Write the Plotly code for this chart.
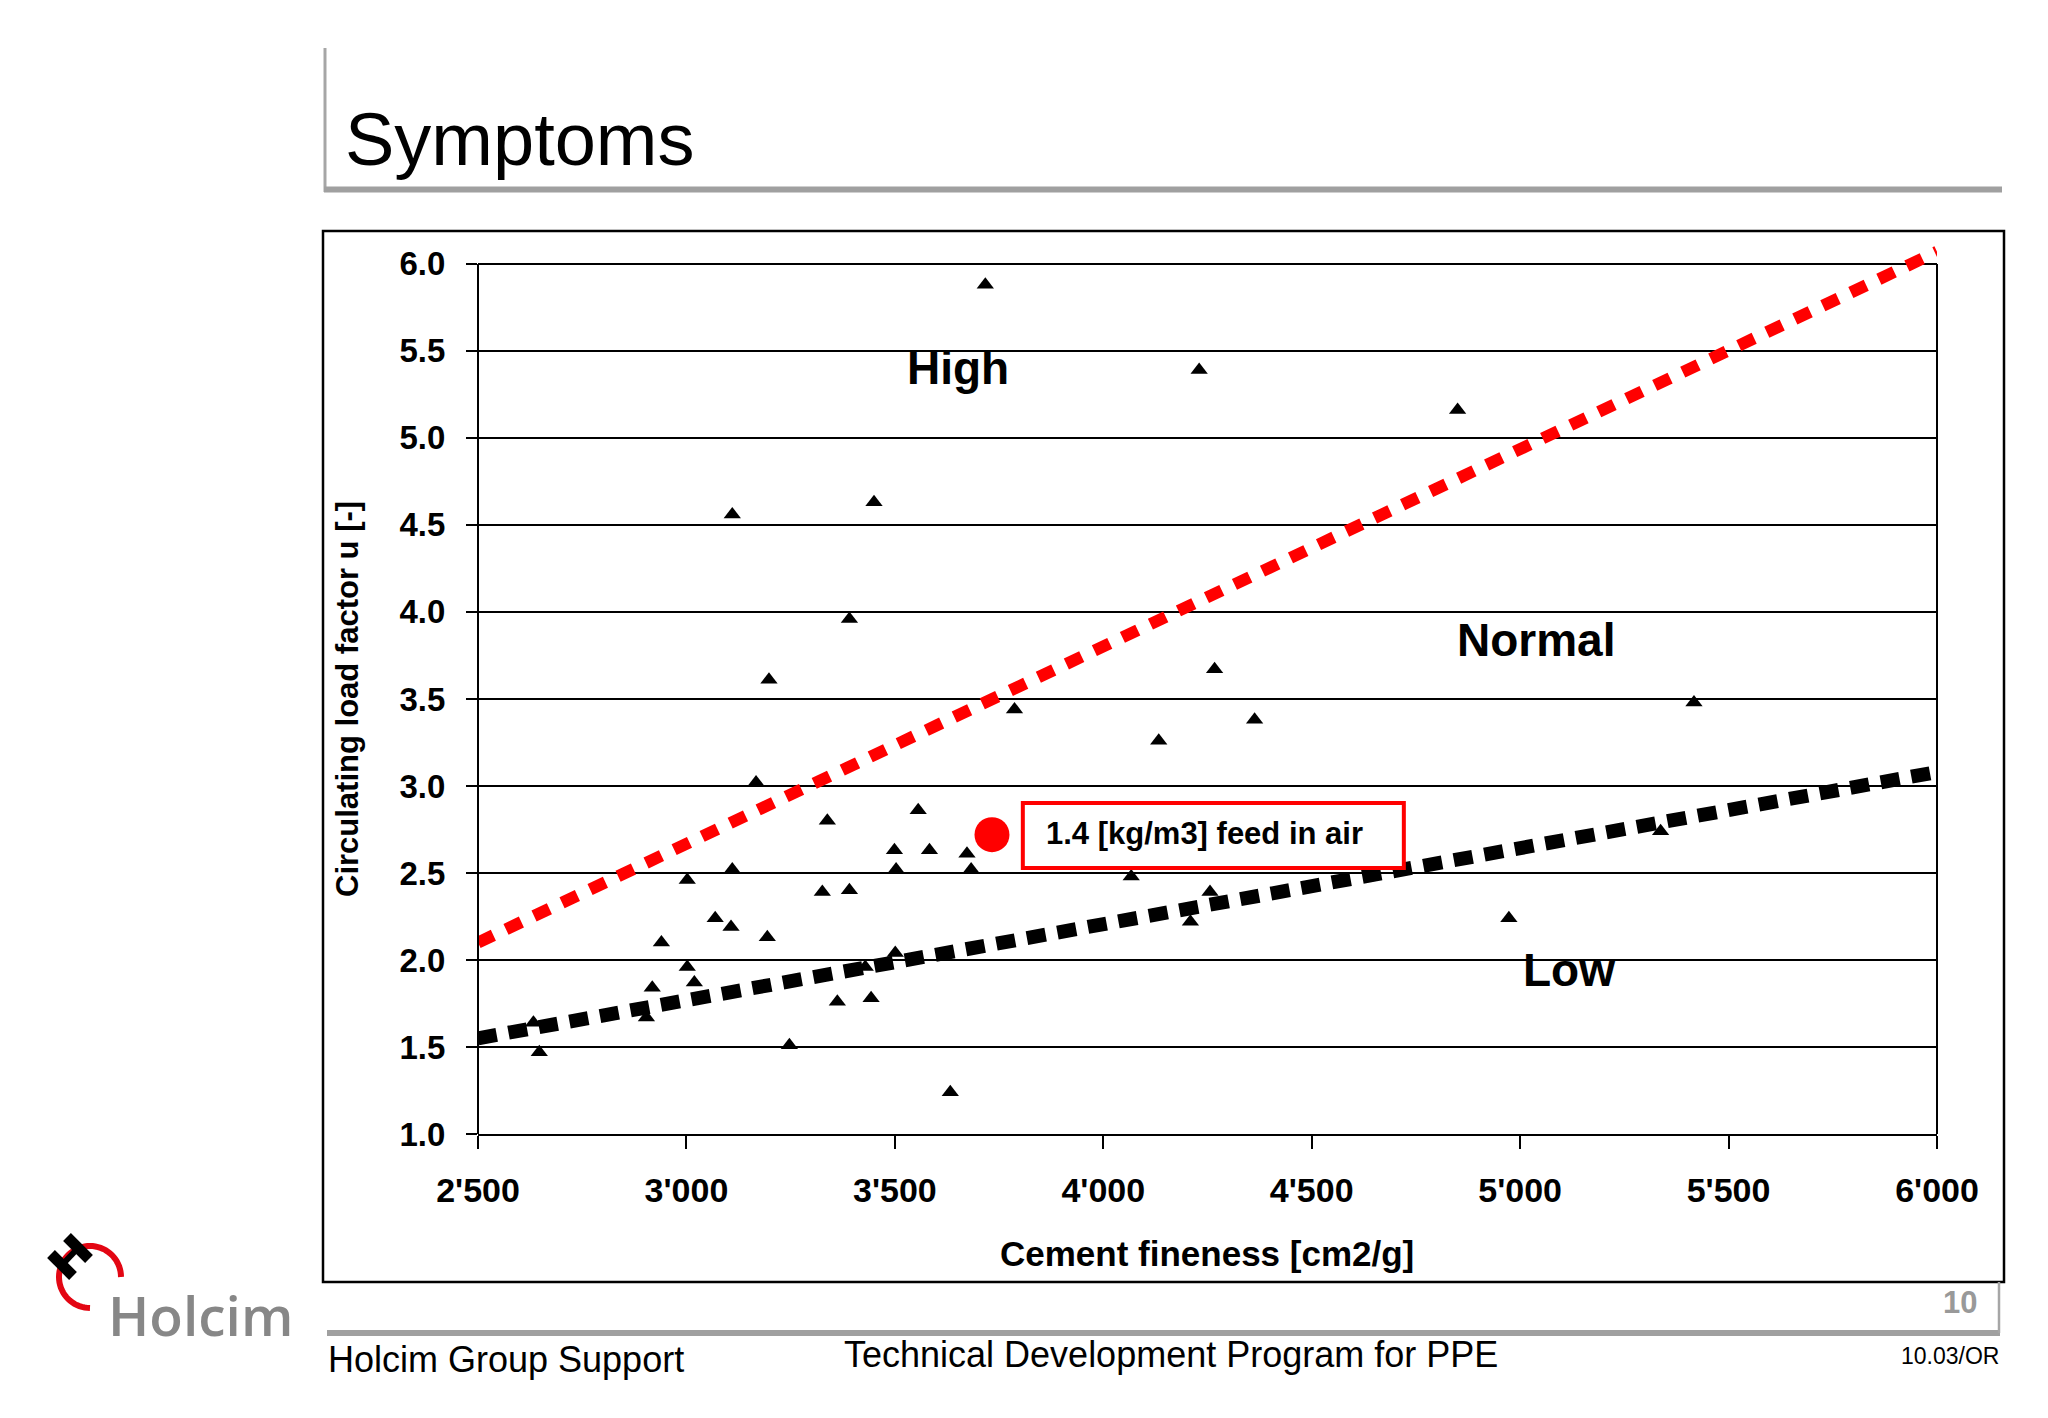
import math
import plotly.graph_objects as go

# ---------------- data ----------------
fineness = [3717, 4230, 4850, 3110, 3450, 3391, 3198, 4267, 4363, 3787,
            4133, 5417, 3167, 3338, 3556, 3499, 3583, 3673, 3503, 3683,
            3110, 3002, 3326, 3391, 3069, 3107, 3194, 2940, 3002, 2918,
            3019, 2904, 2633, 2647, 3362, 3443, 3429, 3501, 3247, 3633,
            4067, 4209, 4256, 4973, 5337, 4542]
load_factor = [5.88, 5.39, 5.16, 4.56, 4.63, 3.96, 3.61, 3.67, 3.38, 3.44,
               3.26, 3.48, 3.02, 2.80, 2.86, 2.63, 2.63, 2.61, 2.52, 2.52,
               2.52, 2.46, 2.39, 2.40, 2.24, 2.19, 2.13, 2.10, 1.96, 1.84,
               1.87, 1.67, 1.64, 1.47, 1.76, 1.78, 1.96, 2.04, 1.51, 1.24,
               2.48, 2.22, 2.39, 2.24, 2.74, 2.54]

high_limit_x = [2500, 6000]
high_limit_y = [2.10, 6.07]
low_limit_x = [2500, 6000]
low_limit_y = [1.55, 3.08]

feed_x = [3733]
feed_y = [2.72]
feed_label = "1.4 [kg/m3] feed in air"

x_tick_vals = [2500, 3000, 3500, 4000, 4500, 5000, 5500, 6000]
x_tick_text = ["2'500", "3'000", "3'500", "4'000", "4'500", "5'000", "5'500", "6'000"]
y_tick_vals = [1.0, 1.5, 2.0, 2.5, 3.0, 3.5, 4.0, 4.5, 5.0, 5.5, 6.0]
y_tick_text = ["1.0", "1.5", "2.0", "2.5", "3.0", "3.5", "4.0", "4.5", "5.0", "5.5", "6.0"]

zone_labels = ["High", "Normal", "Low"]
zone_x = [3651, 5037, 5116]
zone_y = [5.40, 3.84, 1.94]

# ---------------- layout geometry (screen pixels) ----------------
OFF = 8                      # default page body margin
SW, SH = 2048, 1418          # screen size
W, H = SW - OFF, SH - OFF    # figure size
PL, PR, PT, PB = 478, 1937, 243, 1134   # plot area in screen pixels
L, R, T, B = PL - OFF, SW - PR, PT - OFF, SH - PB
PW = PR - PL
PH = PB - PT
Y_MIN, Y_TOP = 1.0, 6.12
X_MIN, X_MAX = 2500, 6000


def px(x):
    return (x - PL) / PW


def py(y):
    return (PB - y) / PH


def vy(v):
    return (v - Y_MIN) / (Y_TOP - Y_MIN)


ARIAL = "Liberation Sans, Arial, Helvetica, sans-serif"

fig = go.Figure()

fig.add_trace(go.Scatter(
    x=fineness, y=load_factor, mode="markers",
    marker=dict(symbol="triangle-up", size=15, color="black", line=dict(width=0)),
    hoverinfo="x+y", showlegend=False))

fig.add_trace(go.Scatter(
    x=high_limit_x, y=high_limit_y, mode="lines",
    line=dict(color="#ff0000", width=12, dash="17px,14px"),
    hoverinfo="skip", showlegend=False))

fig.add_trace(go.Scatter(
    x=low_limit_x, y=low_limit_y, mode="lines",
    line=dict(color="black", width=14, dash="19px,12px"),
    hoverinfo="skip", showlegend=False))

fig.add_trace(go.Scatter(
    x=feed_x, y=feed_y, mode="markers",
    marker=dict(symbol="circle", size=35, color="#ff0000", line=dict(width=0)),
    hoverinfo="x+y", showlegend=False))

shapes = []
# chart frame
shapes.append(dict(type="rect", xref="paper", yref="paper",
                   x0=px(323), x1=px(2004), y0=py(1282), y1=py(231),
                   line=dict(color="black", width=2.5), layer="below"))
# slide title decoration
shapes.append(dict(type="line", xref="paper", yref="paper",
                   x0=px(325), x1=px(325), y0=py(48), y1=py(192),
                   line=dict(color="#a6a6a6", width=3)))
shapes.append(dict(type="line", xref="paper", yref="paper",
                   x0=px(324), x1=px(2002), y0=py(189.5), y1=py(189.5),
                   line=dict(color="#a0a0a0", width=6)))
# footer decoration
shapes.append(dict(type="line", xref="paper", yref="paper",
                   x0=px(327), x1=px(2000), y0=py(1333), y1=py(1333),
                   line=dict(color="#a0a0a0", width=6)))
shapes.append(dict(type="line", xref="paper", yref="paper",
                   x0=px(1999), x1=px(1999), y0=py(1282), y1=py(1333),
                   line=dict(color="#a6a6a6", width=2.5)))
# plot area left and right lines
shapes.append(dict(type="line", xref="paper", yref="paper",
                   x0=0, x1=0, y0=vy(1.0), y1=vy(6.0),
                   line=dict(color="black", width=2)))
shapes.append(dict(type="line", xref="paper", yref="paper",
                   x0=1, x1=1, y0=vy(1.0), y1=vy(6.0),
                   line=dict(color="black", width=2)))
# annotation box
shapes.append(dict(type="rect", xref="x", yref="y",
                   x0=3807, x1=4721, y0=2.528, y1=2.902,
                   line=dict(color="#ff0000", width=4), fillcolor="white",
                   layer="above"))

# Holcim logo (decoration)
cx, cy, r = 90, 1277, 31
pts = []
for i in range(0, 55):
    a = math.radians(i * 5)
    pts.append((px(cx + r * math.cos(a)), py(cy - r * math.sin(a))))
path = "M " + " L ".join(f"{x:.5f},{y:.5f}" for x, y in pts)
shapes.append(dict(type="path", xref="paper", yref="paper", path=path,
                   line=dict(color="#e30613", width=6)))
for (x0, y0, x1, y1) in [(67, 1237, 89, 1259), (51, 1254, 73, 1276)]:
    shapes.append(dict(type="line", xref="paper", yref="paper",
                       x0=px(x0), y0=py(y0), x1=px(x1), y1=py(y1),
                       line=dict(color="black", width=11)))
shapes.append(dict(type="line", xref="paper", yref="paper",
                   x0=px(62), y0=py(1265), x1=px(78), y1=py(1248),
                   line=dict(color="black", width=6)))

annotations = []
for lab, zx, zy in zip(zone_labels, zone_x, zone_y):
    annotations.append(dict(x=zx, y=zy, xref="x", yref="y", text=lab,
                            showarrow=False, xanchor="center", yanchor="middle",
                            font=dict(family=ARIAL, size=46, color="black", weight="bold")))
annotations.append(dict(x=3858, y=2.729, xref="x", yref="y", text=feed_label,
                        showarrow=False, xanchor="left", yanchor="middle",
                        font=dict(family=ARIAL, size=31, color="black", weight="bold")))
annotations.append(dict(x=px(1207), y=py(1253), xref="paper", yref="paper",
                        text="Cement fineness [cm2/g]", showarrow=False,
                        xanchor="center", yanchor="middle",
                        font=dict(family=ARIAL, size=35, color="black", weight="bold")))
annotations.append(dict(x=px(347), y=py(699), xref="paper", yref="paper",
                        text="Circulating load factor u [-]", showarrow=False,
                        textangle=-90, xanchor="center", yanchor="middle",
                        font=dict(family=ARIAL, size=31, color="black", weight="bold")))
annotations.append(dict(x=px(343), y=py(139), xref="paper", yref="paper",
                        text="Symptoms", showarrow=False, xanchor="left", yanchor="middle",
                        font=dict(family=ARIAL, size=74, color="black")))
annotations.append(dict(x=px(326), y=py(1359.5), xref="paper", yref="paper",
                        text="Holcim Group Support", showarrow=False,
                        xanchor="left", yanchor="middle",
                        font=dict(family=ARIAL, size=36, color="black")))
annotations.append(dict(x=px(1171), y=py(1354.5), xref="paper", yref="paper",
                        text="Technical Development Program for PPE", showarrow=False,
                        xanchor="center", yanchor="middle",
                        font=dict(family=ARIAL, size=36, color="black")))
annotations.append(dict(x=px(2001), y=py(1356), xref="paper", yref="paper",
                        text="10.03/OR", showarrow=False,
                        xanchor="right", yanchor="middle",
                        font=dict(family=ARIAL, size=23, color="black")))
annotations.append(dict(x=px(1960), y=py(1302), xref="paper", yref="paper",
                        text="10", showarrow=False,
                        xanchor="center", yanchor="middle",
                        font=dict(family=ARIAL, size=31, color="#999999", weight="bold")))
annotations.append(dict(x=px(106), y=py(1314), xref="paper", yref="paper",
                        text="Holcim", showarrow=False,
                        xanchor="left", yanchor="middle",
                        font=dict(family="Open Sans, Liberation Sans, sans-serif", size=55,
                                  color="#878787", weight=600)))

fig.update_layout(
    width=W, height=H,
    margin=dict(l=L, r=R, t=T, b=B, pad=0),
    paper_bgcolor="white", plot_bgcolor="white",
    showlegend=False,
    shapes=shapes, annotations=annotations,
    xaxis=dict(range=[X_MIN, X_MAX], tickvals=x_tick_vals, ticktext=x_tick_text,
               showgrid=False, zeroline=False, showline=True, linecolor="black",
               linewidth=2, ticks="outside", ticklen=13, tickwidth=2, tickcolor="black",
               ticklabelstandoff=12,
               tickfont=dict(family=ARIAL, size=34, color="black", weight="bold")),
    yaxis=dict(range=[Y_MIN, Y_TOP], tickvals=y_tick_vals, ticktext=y_tick_text,
               showgrid=True, gridcolor="black", gridwidth=2, zeroline=False,
               showline=False, ticks="outside", ticklen=11, tickwidth=2,
               tickcolor="black", ticklabelstandoff=14,
               tickfont=dict(family=ARIAL, size=33, color="black", weight="bold")),
)

fig.write_html("out.html")
